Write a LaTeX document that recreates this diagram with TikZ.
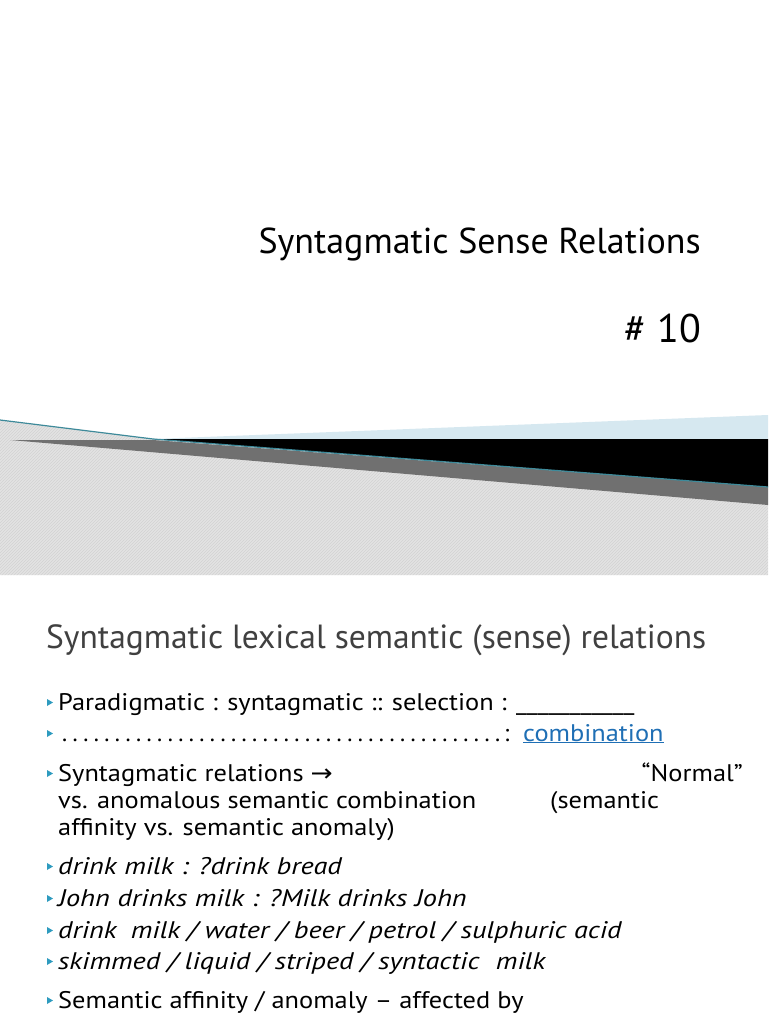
\documentclass[tikz,border=0pt]{standalone}
\usepackage{fontspec}
\setmainfont{PT Sans}
\newfontfamily\symfont{DejaVu Sans}
\usetikzlibrary{patterns}
\definecolor{teal1}{HTML}{3E8A9A}
\definecolor{lblue}{HTML}{D6E8F0}
\definecolor{bul}{HTML}{2E9BBF}
\definecolor{link}{HTML}{1F6FB5}
\definecolor{ttl}{HTML}{404040}
\newcommand{\widen}[1]{\scalebox{1.1}[1]{#1}}
\tikzset{
 txt/.style={anchor=base west,inner sep=0,font=\fontsize{24}{28}\selectfont},
 ttlsty/.style={inner sep=0,font=\fontsize{36}{40}\selectfont}
}
\newcommand{\bulat}[1]{\fill[bul] (47,#1-11) -- (53,#1-7.5) -- (47,#1-4) -- cycle;}
\begin{document}
\begin{tikzpicture}[x=1pt,y=-1pt]
\useasboundingbox (0,0) rectangle (768,1024);
\fill[white] (0,0) rectangle (768,1024);
% wedge
\fill[gray!22] (0,420) -- (153,439) -- (768,487) -- (768,575) -- (0,575) -- cycle;
\fill[pattern=north east lines,pattern color=gray!35] (0,420) -- (153,439) -- (768,487) -- (768,575) -- (0,575) -- cycle;
\fill[lblue] (153,439) -- (768,415) -- (768,439) -- cycle;
\fill[gray!60!black!80] (10,440) -- (153,440) -- (768,487) -- (768,505) -- cycle;
\fill[black] (153,439) -- (768,439) -- (768,487) -- cycle;
\draw[teal1,line width=1.2] (0,420) -- (153,439) -- (768,487);
% top texts
\node[ttlsty,anchor=base east] (t1) at (701,253) {Syntagmatic Sense Relations};
\node[inner sep=0,anchor=base east,font=\fontsize{40}{44}\selectfont] (t2) at (701,342) {\# 10};
% second slide
\node[inner sep=0,font=\fontsize{33.5}{38}\selectfont,anchor=base west,text=ttl] (h) at (46,648) {Syntagmatic lexical semantic (sense) relations};
\bulat{710}\node[txt] (l1) at (58,710) {\widen{Paradigmatic : syntagmatic :: selection : \_\_\_\_\_\_\_\_\_\_\_}};
\bulat{741}\node[txt] (l2) at (58,741) {\makebox[446pt]{\dotfill}:};
\node[txt,text=link] (comb) at (523,741) {\widen{\underline{combination}}};
\bulat{781}\node[txt] (l3) at (58,781) {\widen{Syntagmatic relations {\symfont →}}};
\node[txt,anchor=base east] (norm) at (743,781) {\widen{“Normal”}};
\node[txt] (l3b) at (58,808) {\widen{vs. anomalous semantic combination}};
\node[txt] (sem) at (550,808) {\widen{(semantic}};
\node[txt] (l3c) at (58,835) {\widen{affinity vs. semantic anomaly)}};
\bulat{874}\node[txt] (l4) at (58,874) {\scalebox{1.18}[1]{\itshape drink milk : ?drink bread}};
\bulat{906}\node[txt] (l5) at (58,906) {\scalebox{1.18}[1]{\itshape John drinks milk : ?Milk drinks John}};
\bulat{938}\node[txt] (l6) at (58,938) {\scalebox{1.18}[1]{\itshape drink\hspace{12pt}milk / water / beer / petrol / sulphuric acid}};
\bulat{969}\node[txt] (l7) at (58,969) {\scalebox{1.18}[1]{\itshape skimmed / liquid / striped / syntactic\hspace{14pt}milk}};
\bulat{1008}\node[txt] (l8) at (58,1008) {\widen{Semantic affinity / anomaly – affected by}};
\end{tikzpicture}
\end{document}
